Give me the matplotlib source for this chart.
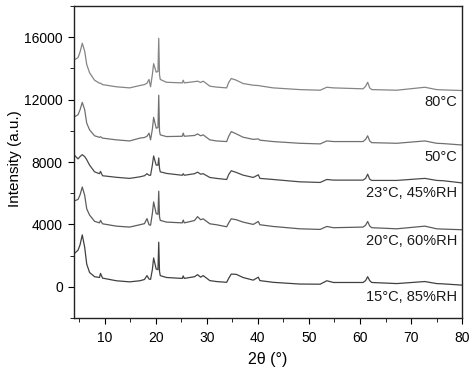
import numpy as np
import matplotlib
matplotlib.use('Agg')
from matplotlib import pyplot as plt
from matplotlib.ticker import MultipleLocator

plt.rcParams['font.family'] = ['Liberation Sans', 'DejaVu Sans']

# 2theta positions
two_theta = [4.0, 4.8, 5.2, 5.63, 6.1, 6.5, 7.06, 8.04, 9.0, 9.2, 9.6, 12.3, 14.9,
             16.9, 17.8, 18.3, 18.7, 19.0, 19.35, 19.6, 20.1, 20.45, 20.6, 20.75,
             20.9, 22.1, 25.2, 25.4, 25.6, 27.6, 28.2, 28.8, 29.3, 30.6, 31.9, 33.9,
             34.3, 34.8, 35.8, 37.1, 39.1, 40.1, 40.4, 43.0, 48.2, 52.2, 53.5, 54.8,
             60.6, 61.1, 61.5, 61.9, 62.3, 67.2, 72.7, 75.0, 76.3, 80.0]

# intensities (already stacked as in the figure)
i_15 = [2110, 2350, 2700, 3330, 2540, 1460, 920, 650, 600, 860, 560, 390, 320,
        390, 470, 720, 500, 480, 1100, 1850, 1140, 1100, 2860, 1000,
        720, 600, 540, 700, 540, 650, 780, 620, 720, 400, 340, 290,
        550, 820, 800, 600, 430, 620, 400, 290, 180, 170, 390, 280,
        280, 400, 650, 400, 280, 210, 340, 210, 190, 110]
i_20 = [5500, 5600, 5900, 6400, 5870, 5000, 4600, 4200, 4100, 4260, 4040, 3890, 3830,
        3980, 4050, 4370, 3980, 3950, 4700, 5440, 4690, 4650, 6130, 4500,
        4260, 4150, 4100, 4280, 4100, 4250, 4500, 4300, 4360, 4040, 3980, 3850,
        4100, 4360, 4300, 4150, 4000, 4190, 3980, 3870, 3720, 3680, 3870, 3790,
        3830, 3950, 4190, 3900, 3790, 3720, 3890, 3720, 3700, 3660]
i_23 = [8470, 8200, 8350, 8470, 8350, 8150, 7800, 7370, 7250, 7400, 7120, 7020, 6950,
        7050, 7120, 7250, 7150, 7150, 7800, 8390, 7800, 7800, 8260, 7600,
        7370, 7270, 7150, 7250, 7150, 7250, 7350, 7220, 7250, 7010, 6950, 6880,
        7200, 7440, 7330, 7160, 7010, 7180, 6950, 6880, 6730, 6690, 6880, 6840,
        6840, 6950, 7220, 6900, 6820, 6820, 6950, 6820, 6800, 6660]
i_50 = [10880, 11030, 11350, 11820, 11350, 10490, 10060, 9680, 9580, 9620, 9530, 9420, 9350,
        9530, 9570, 9650, 9850, 9420, 10100, 10860, 10170, 10200, 12280, 10000,
        9740, 9630, 9650, 9850, 9650, 9700, 9800, 9680, 9740, 9420, 9350, 9310,
        9650, 9950, 9800, 9590, 9450, 9480, 9400, 9310, 9200, 9160, 9350, 9310,
        9310, 9450, 9680, 9350, 9240, 9200, 9350, 9200, 9180, 9090]
i_80 = [14530, 14690, 15050, 15610, 15110, 14250, 13720, 13240, 13050, 13050, 12960, 12820, 12750,
        12900, 12960, 13050, 13290, 12820, 13600, 14300, 13760, 13800, 15930, 13600,
        13290, 13110, 13070, 13240, 13070, 13150, 13180, 13100, 13180, 12860, 12800, 12750,
        13100, 13350, 13240, 13030, 12920, 12900, 12880, 12750, 12640, 12600, 12790, 12750,
        12690, 12850, 13110, 12750, 12640, 12600, 12790, 12640, 12620, 12580]

labels = ['15°C, 85%RH', '20°C, 60%RH', '23°C, 45%RH', '50°C', '80°C']
label_y = [-645, 2970, 6030, 8320, 11870]
series = [i_15, i_20, i_23, i_50, i_80]
colors = ['#404040', '#5c5c5c', '#4a4a4a', '#707070', '#858585']

fig = plt.figure(figsize=(4.74, 3.72), dpi=100)
ax = fig.add_axes([0.156, 0.145, 0.819, 0.839])

for s, c in zip(series, colors):
    ax.plot(np.array(two_theta), np.array(s), color=c, lw=0.9)

for lab, y in zip(labels, label_y):
    ax.text(79.0, y, lab, ha='right', va='center', fontsize=10.5, color='#1a1a1a')

ax.set_xlim(4, 80)
ax.set_ylim(-2000, 18000)
ax.xaxis.set_major_locator(MultipleLocator(10))
ax.xaxis.set_minor_locator(MultipleLocator(5))
ax.yaxis.set_major_locator(MultipleLocator(4000))
ax.yaxis.set_minor_locator(MultipleLocator(2000))
ax.tick_params(axis='both', which='both', direction='out', labelsize=10)
ax.tick_params(axis='x', which='both', pad=5.5)
ax.tick_params(axis='y', which='both', pad=4)
ax.tick_params(axis='both', which='major', length=4)
ax.tick_params(axis='both', which='minor', length=3)
for sp in ax.spines.values():
    sp.set_linewidth(1.0)
    sp.set_color('#222222')

ax.set_xlabel('2θ (°)', fontsize=11.5)
ax.set_ylabel('Intensity (a.u.)', fontsize=11)
ax.yaxis.set_label_coords(-0.135, 0.51)
ax.xaxis.set_label_coords(0.5, -0.109)

fig.savefig('out.png', dpi=100)
